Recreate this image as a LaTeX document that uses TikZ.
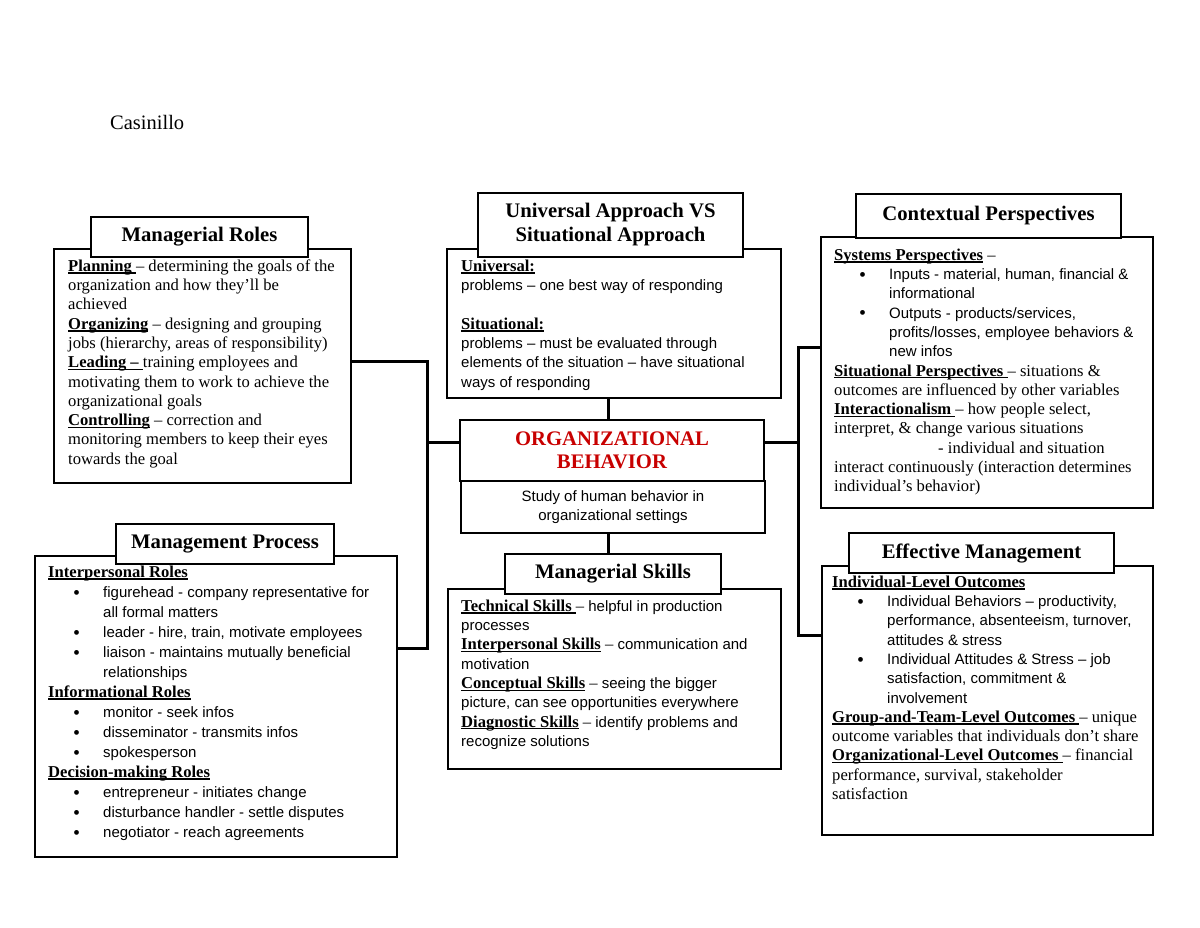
\documentclass[tikz,border=0pt]{standalone}
\usepackage{fontspec}
\setmainfont{Liberation Serif}
\setsansfont{Liberation Sans}
\definecolor{obred}{RGB}{200,0,0}
% underlined bold heading
\newcommand{\hd}[1]{\setbox0\hbox{\bfseries #1}\rlap{\rule[-2.4pt]{\wd0}{1.3pt}}\box0\relax}
\newcommand{\sn}{\sffamily\fontsize{15}{19.3}\selectfont}
\newcommand{\bul}{\hspace*{25pt}\makebox[30pt][l]{\raisebox{-1.8pt}{\fontsize{20}{19}\selectfont\textbullet}}}
\newcommand{\cont}{\hspace*{55pt}}
\begin{document}
\begin{tikzpicture}[x=1pt,y=-1pt,
	box/.style={draw,line width=2pt,inner sep=0pt},
	titlebox/.style={box,fill=white,align=center,font=\fontsize{20.7}{24}\selectfont\bfseries},
	bodytext/.style={anchor=north west,inner sep=0pt,align=left,font=\fontsize{16.6}{19.3}\selectfont},
	conn/.style={line width=3pt}]
	\useasboundingbox (0,0) rectangle (1200,927);
	\node[anchor=base west,inner sep=0pt,font=\fontsize{20.5}{24}\selectfont] (author) at (110,129) {Casinillo};
	% main boxes
	\node[box,minimum width=297pt,minimum height=234pt] (mroles) at (202.5,366) {};
	\node[box,minimum width=362pt,minimum height=301pt] (mproc) at (216,706.5) {};
	\node[box,minimum width=334pt,minimum height=149pt] (univ) at (614,323.5) {};
	\node[box,minimum width=304pt,minimum height=61pt,align=center,text=obred,
		font=\fontsize{20.7}{23}\selectfont\bfseries] (org) at (612,450.5) {ORGANIZATIONAL\\BEHAVIOR};
	\node[box,minimum width=304pt,minimum height=52pt,align=center,
		font=\sffamily\fontsize{15}{19.3}\selectfont] (study) at (613,507) {Study of human behavior in\\organizational settings};
	\node[box,minimum width=333pt,minimum height=180pt] (skills) at (614.5,679) {};
	\node[box,minimum width=332pt,minimum height=271pt] (ctx) at (987,372.5) {};
	\node[box,minimum width=331pt,minimum height=269pt] (eff) at (987.5,700.5) {};
	% title boxes
	\node[titlebox,minimum width=217pt,minimum height=40pt] (mrolesT) at (199.5,237) {Managerial Roles};
	\node[titlebox,minimum width=218pt,minimum height=40pt] (mprocT) at (225,544) {Management Process};
	\node[titlebox,minimum width=265pt,minimum height=64pt] (univT) at (610.5,225) {Universal Approach VS\\Situational Approach};
	\node[titlebox,minimum width=216pt,minimum height=40pt] (skillsT) at (613,574) {Managerial Skills};
	\node[titlebox,minimum width=265pt,minimum height=44pt] (ctxT) at (988.5,216) {Contextual Perspectives};
	\node[titlebox,minimum width=265pt,minimum height=40pt] (effT) at (981.5,553) {Effective Management};
	% connectors
	\coordinate (ljoin) at (427,442);
	\coordinate (rjoin) at (798,442);
	\draw[conn] ([yshift=5pt]mroles.east) -| (ljoin) |- ([yshift=58.5pt]mproc.east);
	\draw[conn] (ljoin) -- (ljoin -| org.west);
	\draw[conn] (org.east |- rjoin) -- (rjoin);
	\draw[conn] ([yshift=25.5pt]ctx.west) -| (rjoin) |- ([yshift=65.5pt]eff.west);
	\draw[conn] ([xshift=-4pt]org.north) -- ([xshift=-4pt]org.north |- univ.south);
	\draw[conn] ([xshift=-5pt]study.south) -- ([xshift=-5pt]study.south |- skillsT.north);
	% texts
	\node[bodytext] (mrolesTxt) at (68,257.5) {\strut\hd{Planning }– determining the goals of the\\
		organization and how they’ll be\\
		achieved\\
		\hd{Organizing} – designing and grouping\\
		jobs (hierarchy, areas of responsibility)\\
		\hd{Leading – }training employees and\\
		motivating them to work to achieve the\\
		organizational goals\\
		\hd{Controlling} – correction and\\
		monitoring members to keep their eyes\\
		towards the goal};
	\node[bodytext,font=\fontsize{16.6}{20}\selectfont] (mprocTxt) at (48,563) {\strut\hd{Interpersonal Roles}\\
		\bul\sn figurehead - company representative for\\
		\cont\sn all formal matters\\
		\bul\sn leader - hire, train, motivate employees\\
		\bul\sn liaison - maintains mutually beneficial\\
		\cont\sn relationships\\
		\hd{Informational Roles}\\
		\bul\sn monitor - seek infos\\
		\bul\sn disseminator - transmits infos\\
		\bul\sn spokesperson\\
		\hd{Decision-making Roles}\\
		\bul\sn entrepreneur - initiates change\\
		\bul\sn disturbance handler - settle disputes\\
		\bul\sn negotiator - reach agreements};
	\node[bodytext] (univTxt) at (461,257.5) {\strut\hd{Universal:}\\
		\sn problems – one best way of responding\\
		\mbox{}\\
		\hd{Situational:}\\
		\sn problems – must be evaluated through\\
		\sn elements of the situation – have situational\\
		\sn ways of responding};
	\node[bodytext] (skillsTxt) at (461,597.5) {\strut\hd{Technical Skills }– \sn helpful in production\\
		\sn processes\\
		\hd{Interpersonal Skills} – \sn communication and\\
		\sn motivation\\
		\hd{Conceptual Skills} – \sn seeing the bigger\\
		\sn picture, can see opportunities everywhere\\
		\hd{Diagnostic Skills} – \sn identify problems and\\
		\sn recognize solutions};
	\node[bodytext] (ctxTxt) at (834,246.5) {\strut\hd{Systems Perspectives} –\\
		\bul\sn Inputs - material, human, financial \&\\
		\cont\sn informational\\
		\bul\sn Outputs - products/services,\\
		\cont\sn profits/losses, employee behaviors \&\\
		\cont\sn new infos\\
		\hd{Situational Perspectives }– situations \&\\
		outcomes are influenced by other variables\\
		\hd{Interactionalism }– how people select,\\
		interpret, \& change various situations\\
		\hspace*{104pt}- individual and situation\\
		interact continuously (interaction determines\\
		individual’s behavior)};
	\node[bodytext] (effTxt) at (832,573.5) {\strut\hd{Individual-Level Outcomes}\\
		\bul\sn Individual Behaviors – productivity,\\
		\cont\sn performance, absenteeism, turnover,\\
		\cont\sn attitudes \& stress\\
		\bul\sn Individual Attitudes \& Stress – job\\
		\cont\sn satisfaction, commitment \&\\
		\cont\sn involvement\\
		\hd{Group-and-Team-Level Outcomes }– unique\\
		outcome variables that individuals don’t share\\
		\hd{Organizational-Level Outcomes }– financial\\
		performance, survival, stakeholder\\
		satisfaction};
\end{tikzpicture}
\end{document}
